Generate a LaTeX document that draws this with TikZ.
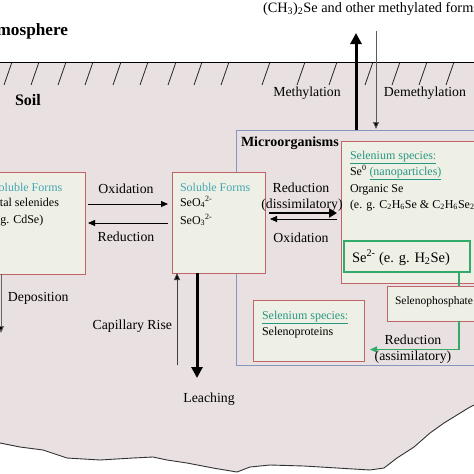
\documentclass[tikz,border=0pt]{standalone}
\usepackage{fontspec}
\setmainfont{Liberation Serif}
\usetikzlibrary{arrows.meta,calc}
\definecolor{soil}{RGB}{233,225,225}
\definecolor{boxfill}{RGB}{238,240,229}
\definecolor{boxred}{RGB}{192,100,105}
\definecolor{tealtxt}{RGB}{70,165,180}
\definecolor{greentxt}{RGB}{40,150,130}
\definecolor{grn}{RGB}{50,170,105}
\definecolor{microblue}{RGB}{135,150,190}
\begin{document}
\begin{tikzpicture}[x=1pt,y=-1pt,
  every node/.style={inner sep=0pt,outer sep=0pt},
  lbl/.style={font=\fontsize{13.8}{16}\selectfont},
  btxt/.style={font=\fontsize{12}{14}\selectfont,anchor=base west},
  bold/.style={font=\fontsize{16}{18}\selectfont\bfseries},
  redbox/.style={draw=boxred,fill=boxfill,line width=0.9pt},
  thinarrow/.style={draw=black,line width=0.8pt,-{Triangle[width=6pt,length=7pt]}},
  thickarrow/.style={draw=black,line width=2.7pt,-{Triangle[width=9pt,length=8pt]}},
  bigarrow/.style={draw=black,line width=3pt,-{Triangle[width=11pt,length=11pt]}},
  greenarrow/.style={draw=grn,line width=1.5pt,-{Triangle[width=6pt,length=7pt]}},
  hatch/.style={line width=0.8pt,black!85}]
\useasboundingbox (0,0) rectangle (474,474);
\clip (0,0) rectangle (474,474);
% soil
\fill[soil] (0,62) -- (474,62) -- (474,405) -- (470,407) -- (457,415) -- (444,423) -- (430,433) -- (414,447) -- (397,458) -- (384,468) -- (370,470) -- (337,468) -- (304,466) -- (270,465) -- (250,467) -- (237,472) -- (213,468) -- (187,463) -- (167,460) -- (153,457) -- (133,458) -- (100,460) -- (67,458) -- (43,450) -- (20,447) -- (0,443) -- cycle;
\draw[line width=0.9pt,black!80] (474,405) -- (470,407) -- (457,415) -- (444,423) -- (430,433) -- (414,447) -- (397,458) -- (384,468) -- (370,470) -- (337,468) -- (304,466) -- (270,465) -- (250,467) -- (237,472) -- (213,468) -- (187,463) -- (167,460) -- (153,457) -- (133,458) -- (100,460) -- (67,458) -- (43,450) -- (20,447) -- (0,443);
\foreach \h in {12,39,66,93,121,148,176,202,229,270,305,337,373,400,427,454}
  \draw[hatch] (\h,62) -- ++(-8,23);
\draw[line width=1pt] (0,62) -- (474,62);
% microorganisms box
\node[draw=microblue,line width=1pt,minimum width=254,minimum height=235] (micro) at (363,247.5) {};
% boxes
\node[redbox,minimum width=115,minimum height=102] (ins) at (27.5,223) {};
\node[redbox,minimum width=93,minimum height=101] (sol) at (218.5,222.5) {};
\node[redbox,minimum width=149,minimum height=142] (selsp) at (415.5,212) {};
\node[draw=grn,fill=boxfill,line width=1.2pt,minimum width=126,minimum height=31] (se2) at (407,256.5) {};
\node[redbox,minimum width=103,minimum height=35] (selphos) at (438.5,303.5) {};
\node[redbox,minimum width=111,minimum height=61] (selpro) at (308.5,330.5) {};
% coordinates for free ends
\coordinate (methtop) at (356,33);
\coordinate (demtop) at (376,31);
\coordinate (depend) at (1,333);
\coordinate (capbot) at (177,365);
\coordinate (leachend) at (197,378);
% arrows
\draw[thinarrow] ($(ins.east)+(3,-19)$) -- ($(sol.west)+(-4,-18.5)$);
\draw[thinarrow] ($(sol.west)+(-4,0.5)$) -- ($(ins.east)+(3,0)$);
\draw[thickarrow] ($(sol.east)+(4,-9.5)$) -- ($(selsp.west)+(-4,1)$);
\draw[thinarrow] ($(selsp.west)+(-4,7)$) -- ($(sol.east)+(5,-3.5)$);
\draw[bigarrow] ($(micro.north)+(-7,0)$) -- (methtop);
\draw[draw=black!65,line width=0.9pt,-{Triangle[width=6pt,length=7pt,fill=black]}] (demtop) -- ($(micro.north)+(13,-1)$);
\draw[draw=black!60,line width=0.9pt,-{Triangle[width=6pt,length=7pt,fill=black]}] ($(ins.south)+(-26.5,0)$) -- (depend);
\draw[draw=black!75,line width=0.8pt,-{Triangle[width=6pt,length=7pt,fill=black]}] (capbot) -- ($(sol.south)+(-41.5,0)$);
\draw[bigarrow] ($(sol.south)+(-21.5,0)$) -- (leachend);
\draw[draw=grn,line width=1.5pt] ($(se2.south)+(52,0)$) -- ($(selphos.north)+(20.5,0)$);
\draw[greenarrow] ($(selphos.south)+(20.5,0)$) |- ($(selpro.east)+(6,19)$);
% labels
\node[font=\fontsize{17.2}{19}\selectfont\bfseries,anchor=base east] (atm) at (68,35) {Atmosphere};
\node[font=\fontsize{14.3}{16}\selectfont,anchor=base west] (ch3) at (263,12) {(CH\textsubscript{3})\textsubscript{2}Se and other methylated forms};
\node[bold,anchor=base west] (soiltxt) at (15,105) {Soil};
\node[lbl,anchor=base] (meth) at (307,96) {Methylation};
\node[lbl,anchor=base] (demeth) at (425,96) {Demethylation};
\node[font=\fontsize{14}{16}\selectfont\bfseries,anchor=base west] (microtxt) at (241,146) {Microorganisms};
\node[lbl,anchor=base] (ox1) at (126,193) {Oxidation};
\node[lbl,anchor=base] (red1) at (126,241) {Reduction};
\node[lbl,anchor=base] (red2) at (301,192) {Reduction};
\node[lbl,anchor=base] (dis) at (302,208) {(dissimilatory)};
\node[lbl,anchor=base] (ox2) at (301,242) {Oxidation};
\node[lbl,anchor=base west] (dep) at (8,301) {Deposition};
\node[lbl,anchor=base east] (cap) at (172,329) {Capillary Rise};
\node[lbl,anchor=base] (leach) at (209,402) {Leaching};
\node[lbl,anchor=base] (red3) at (413,344) {Reduction};
\node[lbl,anchor=base] (assim) at (413,360) {(assimilatory)};
% box texts
\node[btxt,text=tealtxt] (t1) at (-16,191) {Insoluble Forms};
\node[btxt] (t2) at (-16,206) {Metal selenides};
\node[btxt] (t3) at (-16,223) {(e. g. CdSe)};
\node[btxt,text=tealtxt] (t4) at (180,191) {Soluble Forms};
\node[btxt] (t5) at (180,206) {SeO\textsubscript{4}\textsuperscript{2-}};
\node[btxt] (t6) at (180,224) {SeO\textsubscript{3}\textsuperscript{2-}};
\node[btxt,text=greentxt] (t7) at (350,159) {\underline{Selenium species:}};
\node[btxt] (t8) at (350,175) {Se\textsuperscript{0} \textcolor{greentxt}{\underline{(nanoparticles)}}};
\node[btxt] (t9) at (350,192) {Organic Se};
\node[btxt] (t10) at (350,208) {(e. g. C\textsubscript{2}H\textsubscript{6}Se \& C\textsubscript{2}H\textsubscript{6}Se\textsubscript{2})};
\node[font=\fontsize{14.5}{16}\selectfont,anchor=base west] (t11) at (352,262) {Se\textsuperscript{2-} (e. g. H\textsubscript{2}Se)};
\node[font=\fontsize{11.5}{14}\selectfont,anchor=base west] (t12) at (395,304) {Selenophosphate};
\node[btxt,text=greentxt] (t13) at (262,319) {\underline{Selenium species:}};
\node[btxt] (t14) at (262,335) {Selenoproteins};
\end{tikzpicture}
\end{document}
